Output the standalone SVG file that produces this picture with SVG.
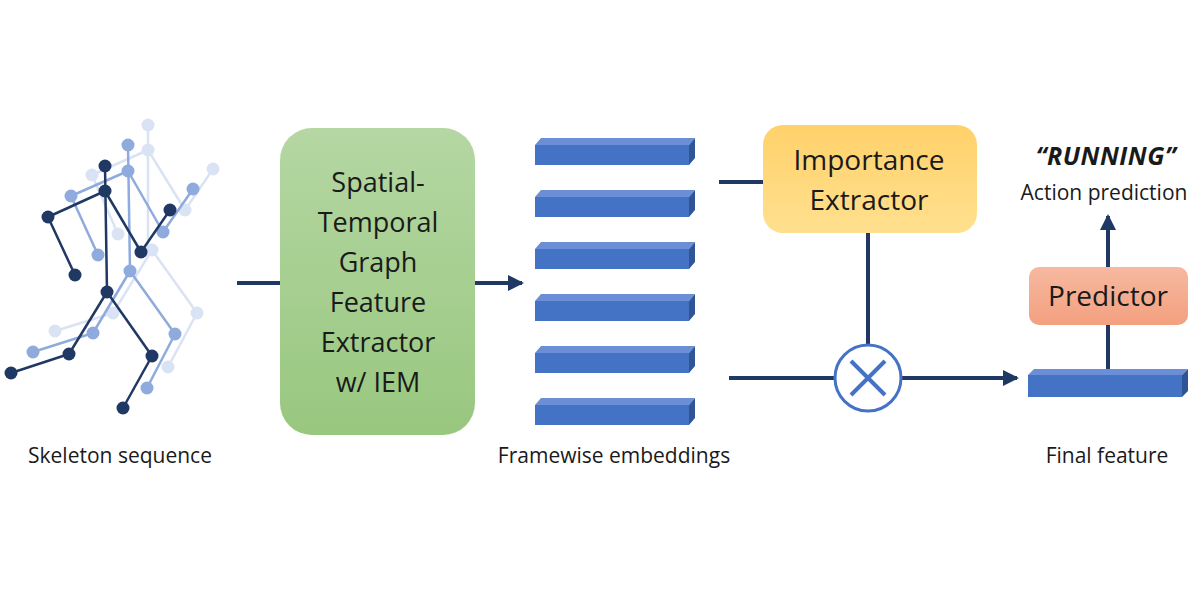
<svg xmlns="http://www.w3.org/2000/svg" width="1200" height="600" viewBox="0 0 1200 600">
<defs>
<linearGradient id="gG" x1="0" y1="0" x2="0" y2="1"><stop offset="0" stop-color="#b5d7a3"/><stop offset="1" stop-color="#98c77f"/></linearGradient>
<linearGradient id="gY" x1="0" y1="0" x2="0" y2="1"><stop offset="0" stop-color="#ffd16a"/><stop offset="1" stop-color="#ffe08f"/></linearGradient>
<linearGradient id="gP" x1="0" y1="0" x2="0" y2="1"><stop offset="0" stop-color="#f6b9a0"/><stop offset="1" stop-color="#f3a07f"/></linearGradient>
<marker id="ah" markerWidth="16" markerHeight="16" refX="14" refY="8" orient="auto" markerUnits="userSpaceOnUse" viewBox="0 0 16 16"><path d="M0,0 L16,8 L0,16 z" fill="#203864"/></marker>
<g id="bar">
<polygon points="0,7 6,0 160,0 154,7" fill="#6a8fd6"/>
<polygon points="154,7 160,0 160,20 154,27" fill="#2f5597"/>
<rect x="0" y="7" width="154" height="20" fill="#4472c4"/>
</g>
</defs>
<style>
.t{font-family:"Open Sans","Noto Sans",sans-serif;fill:#1a1a1a}
.c{stroke:#203864;stroke-width:4;fill:none}
.d line{stroke:#203864;stroke-width:2.5}
.d circle{fill:#203864}
.m line{stroke:#8faadc;stroke-width:2.5}
.m circle{fill:#8faadc}
.l line{stroke:#dae3f3;stroke-width:2.5}
.l circle{fill:#dae3f3}
</style>
<rect width="1200" height="600" fill="#fff"/>
<g id="skeleton">
<g class="l">
<line x1="148" y1="125" x2="148" y2="250"/><line x1="148" y1="150" x2="92" y2="175"/><line x1="92" y1="175" x2="118" y2="234"/><line x1="148" y1="150" x2="185" y2="210"/><line x1="185" y1="210" x2="213" y2="169"/><line x1="152" y1="250" x2="113" y2="313"/><line x1="113" y1="313" x2="55" y2="331"/><line x1="152" y1="250" x2="197" y2="313"/><line x1="197" y1="313" x2="168" y2="367"/>
<circle cx="148" cy="125" r="6.5"/><circle cx="148" cy="150" r="6.5"/><circle cx="92" cy="175" r="6.5"/><circle cx="118" cy="234" r="6.5"/><circle cx="185" cy="210" r="6.5"/><circle cx="213" cy="169" r="6.5"/><circle cx="152" cy="250" r="6.5"/><circle cx="113" cy="313" r="6.5"/><circle cx="55" cy="331" r="6.5"/><circle cx="197" cy="313" r="6.5"/><circle cx="168" cy="367" r="6.5"/>
</g>
<g class="m">
<line x1="128" y1="145" x2="130" y2="271"/><line x1="128" y1="171" x2="71" y2="196"/><line x1="71" y1="196" x2="98" y2="255"/><line x1="128" y1="171" x2="163" y2="232"/><line x1="163" y1="232" x2="193" y2="189"/><line x1="130" y1="271" x2="93" y2="333"/><line x1="93" y1="333" x2="33" y2="352"/><line x1="130" y1="271" x2="175" y2="334"/><line x1="175" y1="334" x2="147" y2="388"/>
<circle cx="128" cy="145" r="6.5"/><circle cx="128" cy="171" r="6.5"/><circle cx="71" cy="196" r="6.5"/><circle cx="98" cy="255" r="6.5"/><circle cx="163" cy="232" r="6.5"/><circle cx="193" cy="189" r="6.5"/><circle cx="130" cy="271" r="6.5"/><circle cx="93" cy="333" r="6.5"/><circle cx="33" cy="352" r="6.5"/><circle cx="175" cy="334" r="6.5"/><circle cx="147" cy="388" r="6.5"/>
</g>
<g class="d">
<line x1="105" y1="166" x2="107" y2="292"/><line x1="105" y1="191" x2="48" y2="217"/><line x1="48" y1="217" x2="75" y2="275"/><line x1="105" y1="191" x2="141" y2="252"/><line x1="141" y1="252" x2="170" y2="210"/><line x1="107" y1="292" x2="69" y2="354"/><line x1="69" y1="354" x2="11" y2="373"/><line x1="107" y1="292" x2="152" y2="356"/><line x1="152" y1="356" x2="123" y2="408"/>
<circle cx="105" cy="166" r="6.5"/><circle cx="105" cy="191" r="6.5"/><circle cx="48" cy="217" r="6.5"/><circle cx="75" cy="275" r="6.5"/><circle cx="141" cy="252" r="6.5"/><circle cx="170" cy="210" r="6.5"/><circle cx="107" cy="292" r="6.5"/><circle cx="69" cy="354" r="6.5"/><circle cx="11" cy="373" r="6.5"/><circle cx="152" cy="356" r="6.5"/><circle cx="123" cy="408" r="6.5"/>
</g>
<text class="t" x="120" y="463" font-size="21" text-anchor="middle">Skeleton sequence</text>
</g>
<g id="connectors">
<line class="c" x1="237" y1="283" x2="280" y2="283"/>
<line class="c" x1="475" y1="283" x2="522" y2="283" marker-end="url(#ah)"/>
<line class="c" x1="719" y1="182" x2="763" y2="182"/>
<line class="c" x1="868" y1="233" x2="868" y2="345"/>
<line class="c" x1="729" y1="378" x2="835" y2="378"/>
<line class="c" x1="901" y1="378" x2="1017" y2="378" marker-end="url(#ah)"/>
<line class="c" x1="1108" y1="325" x2="1108" y2="369"/>
<line class="c" x1="1108" y1="267" x2="1108" y2="216" marker-end="url(#ah)"/>
</g>
<g id="stgfe">
<rect x="280" y="128" width="195" height="307" rx="32" fill="url(#gG)"/>
<text class="t" font-size="27" text-anchor="middle"><tspan x="378" y="192">Spatial-</tspan><tspan x="378" y="232">Temporal</tspan><tspan x="378" y="272">Graph</tspan><tspan x="378" y="312">Feature</tspan><tspan x="378" y="352">Extractor</tspan><tspan x="378" y="392">w/ IEM</tspan></text>
</g>
<g id="embeddings">
<use href="#bar" x="535" y="138"/><use href="#bar" x="535" y="190"/><use href="#bar" x="535" y="242"/><use href="#bar" x="535" y="294"/><use href="#bar" x="535" y="346"/><use href="#bar" x="535" y="398"/>
<text class="t" x="614" y="463" font-size="21" text-anchor="middle">Framewise embeddings</text>
</g>
<g id="importance">
<rect x="763" y="125" width="214" height="108" rx="20" fill="url(#gY)"/>
<text class="t" font-size="28" text-anchor="middle"><tspan x="869" y="170">Importance</tspan><tspan x="869" y="210">Extractor</tspan></text>
</g>
<g id="multiply">
<circle cx="868" cy="378" r="33" fill="#fff" stroke="#4472c4" stroke-width="3"/>
<path d="M851,361 L885,395 M885,361 L851,395" stroke="#4472c4" stroke-width="4"/>
</g>
<g id="final">
<rect x="1028" y="375" width="154" height="22" fill="#4472c4"/>
<polygon points="1028,375 1034,369 1188,369 1182,375" fill="#6a8fd6"/>
<polygon points="1182,375 1188,369 1188,391 1182,397" fill="#2f5597"/>
<text class="t" x="1107" y="463" font-size="21" text-anchor="middle">Final feature</text>
</g>
<g id="predictor">
<rect x="1029" y="267" width="159" height="58" rx="10" fill="url(#gP)"/>
<text class="t" x="1108" y="306" font-size="28" text-anchor="middle">Predictor</text>
</g>
<g id="output">
<text class="t" x="1106" y="165" font-size="25" font-weight="bold" font-style="italic" text-anchor="middle" letter-spacing="0.5">“RUNNING”</text>
<text class="t" x="1104" y="200" font-size="21" text-anchor="middle">Action prediction</text>
</g>
</svg>
